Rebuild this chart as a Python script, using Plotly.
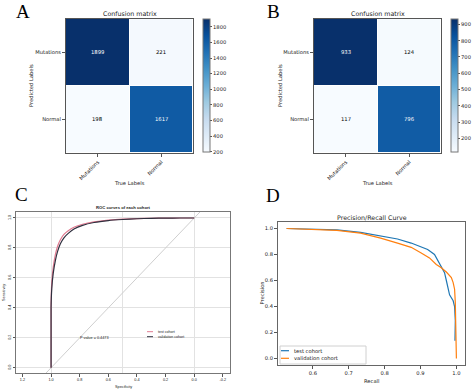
import plotly.graph_objects as go

W, H = 474, 391

# ---------------- data ----------------
cm_labels = ["Mutations", "Normal"]
cm_test = [[1899, 221], [198, 1617]]
cm_val = [[933, 124], [117, 796]]
cbar_ticks_a = [200, 400, 600, 800, 1000, 1200, 1400, 1600, 1800]
cbar_ticks_b = [200, 300, 400, 500, 600, 700, 800, 900]

roc_spec = [1.0, 1.0, 0.995, 0.985, 0.97, 0.955, 0.935, 0.91, 0.88, 0.84,
            0.78, 0.70, 0.60, 0.50, 0.40, 0.30, 0.20, 0.10, 0.0]
roc_sens_test = [0.0, 0.42, 0.57, 0.67, 0.755, 0.81, 0.855, 0.89, 0.915, 0.938,
                 0.958, 0.974, 0.986, 0.993, 0.996, 0.998, 0.999, 1.0, 1.0]
roc_sens_val = [0.0, 0.40, 0.53, 0.63, 0.715, 0.775, 0.828, 0.868, 0.897, 0.926,
                0.951, 0.970, 0.983, 0.990, 0.995, 0.998, 0.999, 1.0, 1.0]
roc_xticks = [1.2, 1.0, 0.8, 0.6, 0.4, 0.2, 0.0, -0.2]
roc_yticks = [0.0, 0.2, 0.4, 0.6, 0.8, 1.0]
roc_grid_x = [1.0, 0.5, 0.0]
p_value_text = "P value = 0.4473"

pr_recall_test = [0.527, 0.6, 0.667, 0.733, 0.789, 0.836, 0.874, 0.897, 0.92, 0.939,
                  0.949, 0.96, 0.967, 0.972, 0.977, 0.981, 0.991, 0.995, 0.997, 0.996]
pr_prec_test = [1.0, 0.995, 0.99, 0.97, 0.94, 0.919, 0.888, 0.863, 0.838, 0.80,
                0.749, 0.698, 0.66, 0.60, 0.55, 0.49, 0.444, 0.40, 0.29, 0.137]
pr_recall_val = [0.527, 0.6, 0.667, 0.733, 0.789, 0.836, 0.874, 0.902, 0.925, 0.944,
                 0.958, 0.972, 0.986, 0.991, 0.995, 0.997, 0.998, 1.0, 1.0]
pr_prec_val = [1.0, 0.995, 0.985, 0.964, 0.926, 0.888, 0.855, 0.812, 0.774, 0.723,
               0.698, 0.665, 0.622, 0.584, 0.533, 0.43, 0.30, 0.12, 0.0]
pr_xticks = [0.6, 0.7, 0.8, 0.9, 1.0]
pr_yticks = [0.0, 0.2, 0.4, 0.6, 0.8, 1.0]

series_names = ["test cohort", "validation cohort"]

# ---------------- style ----------------
blues = ['rgb(247,251,255)', 'rgb(222,235,247)', 'rgb(198,219,239)', 'rgb(158,202,225)',
         'rgb(107,174,214)', 'rgb(66,146,198)', 'rgb(33,113,181)', 'rgb(8,81,156)', 'rgb(8,48,107)']
blues_scale = [[i / (len(blues) - 1), c] for i, c in enumerate(blues)]
MPL = "DejaVu Sans"
RF = "Liberation Sans"
SERIF = "Liberation Serif"
roc_colors = ["#e07a90", "#30303f"]
pr_colors = ["#1f77b4", "#ff7f0e"]


def px(x):
    return x / W


def py(y):
    return 1 - y / H


fig = go.Figure()

# ---------- confusion matrices ----------
for k, (cm, ax) in enumerate([(cm_test, ""), (cm_val, "2")]):
    fig.add_trace(go.Heatmap(z=cm, x=cm_labels, y=cm_labels, coloraxis="coloraxis" + ax,
                             xaxis="x" + ax, yaxis="y" + ax, xgap=1, ygap=1,
                             hoverinfo="skip"))
    thresh = max(max(r) for r in cm) / 2
    for i, row in enumerate(cm):
        for j, v in enumerate(row):
            fig.add_annotation(x=cm_labels[j], y=cm_labels[i], xref="x" + ax, yref="y" + ax,
                               text=str(v), showarrow=False,
                               font=dict(family=MPL, size=5.3,
                                         color="white" if v > thresh else "black"))

# ---------- ROC ----------
rx = [roc_xticks[0] + 0.05, roc_xticks[-1] - 0.05]
fig.add_trace(go.Scatter(x=rx, y=[1 - v for v in rx], mode="lines", xaxis="x3", yaxis="y3",
                         line=dict(color="#cfcfcf", width=1), hoverinfo="skip", showlegend=False))
for name, sens, col in [(series_names[0], roc_sens_test, roc_colors[0]),
                        (series_names[1], roc_sens_val, roc_colors[1])]:
    fig.add_trace(go.Scatter(x=roc_spec, y=sens, mode="lines", name=name, xaxis="x3", yaxis="y3",
                             line=dict(color=col, width=1.2, shape="spline", smoothing=0.4),
                             showlegend=False))
fig.add_annotation(x=0.70, y=0.2, xref="x3", yref="y3", text=p_value_text, showarrow=False,
                   font=dict(family=RF, size=3.8, color="#222"))

# ---------- PR ----------
for name, rec, prec, col in [(series_names[0], pr_recall_test, pr_prec_test, pr_colors[0]),
                             (series_names[1], pr_recall_val, pr_prec_val, pr_colors[1])]:
    fig.add_trace(go.Scatter(x=rec, y=prec, mode="lines", name=name, xaxis="x4", yaxis="y4",
                             line=dict(color=col, width=1.2), showlegend=False))

# ---------- axes ----------
hm_axis = dict(showline=True, mirror=True, linecolor="#555", linewidth=1, ticks="outside",
               ticklen=3, tickcolor="#555", tickfont=dict(family=MPL, size=5.2, color="#222"),
               showgrid=False, zeroline=False)
cm_ydom = [py(153), py(19)]
cbar_common = dict(thickness=7, len=133, lenmode="pixels", y=py(85.5), yanchor="middle",
                   xanchor="left", xpad=0, ypad=0, outlinewidth=1, outlinecolor="#777",
                   ticks="outside", ticklen=2, tickcolor="#555",
                   tickfont=dict(family=MPL, size=5.2, color="#222"))
roc_axis = dict(showline=True, mirror=True, linecolor="#777", linewidth=1, ticks="outside",
                ticklen=2.5, tickcolor="#555", tickfont=dict(family=RF, size=3.8, color="#222"),
                zeroline=False)
pr_axis = dict(showline=True, mirror=True, linecolor="#666", linewidth=1, ticks="outside",
               ticklen=3, tickcolor="#555", tickfont=dict(family=MPL, size=5.2, color="#222"),
               showgrid=False, zeroline=False)

fig.update_layout(
    width=W, height=H, margin=dict(l=0, r=0, t=0, b=0),
    paper_bgcolor="white", plot_bgcolor="white", showlegend=False,
    coloraxis=dict(colorscale=blues_scale,
                   colorbar=dict(x=px(203), tickvals=cbar_ticks_a, **cbar_common)),
    coloraxis2=dict(colorscale=blues_scale,
                    colorbar=dict(x=px(451), tickvals=cbar_ticks_b, **cbar_common)),
    xaxis=dict(domain=[px(66), px(193)], anchor="y", tickangle=-45, **hm_axis),
    yaxis=dict(domain=cm_ydom, anchor="x", autorange="reversed", **hm_axis),
    xaxis2=dict(domain=[px(314), px(441)], anchor="y2", tickangle=-45, **hm_axis),
    yaxis2=dict(domain=cm_ydom, anchor="x2", autorange="reversed", **hm_axis),
    xaxis3=dict(domain=[px(16), px(230)], anchor="y3", range=[1.245, -0.25],
                tickvals=roc_xticks, ticktext=[f"{v:.1f}" for v in roc_xticks], showgrid=False,
                minor=dict(tickmode="array", tickvals=roc_grid_x, showgrid=True,
                           gridcolor="#e2e2e2", gridwidth=1, ticks=""),
                **roc_axis),
    yaxis3=dict(domain=[py(373), py(212)], anchor="x3", range=[-0.035, 1.04],
                tickvals=roc_yticks, ticktext=[f"{v:.1f}" for v in roc_yticks], tickangle=-90,
                showgrid=True, gridcolor="#e2e2e2", gridwidth=1, **roc_axis),
    xaxis4=dict(domain=[px(278), px(465)], anchor="y4", range=[0.503, 1.024],
                tickvals=pr_xticks, ticktext=[f"{v:.1f}" for v in pr_xticks], **pr_axis),
    yaxis4=dict(domain=[py(365), py(222)], anchor="x4", range=[-0.05, 1.05],
                tickvals=pr_yticks, ticktext=[f"{v:.1f}" for v in pr_yticks], **pr_axis),
)


def note(x, y, text, size, family=MPL, angle=0, xanchor="center", color="#222"):
    fig.add_annotation(x=px(x), y=py(y), xref="paper", yref="paper", text=text, showarrow=False,
                       textangle=angle, xanchor=xanchor, yanchor="middle",
                       font=dict(family=family, size=size, color=color))


# panel letters
note(22.5, 11, "A", 19, SERIF, color="black")
note(273, 11, "B", 19, SERIF, color="black")
note(21, 194, "C", 19, SERIF, color="black")
note(273, 195, "D", 19, SERIF, color="black")

# titles and axis labels
note(129.5, 14, "Confusion matrix", 6.3)
note(377.5, 14, "Confusion matrix", 6.3)
note(129.5, 183, "True Labels", 5.2)
note(377.5, 183, "True Labels", 5.2)
note(31, 86, "Predicted Labels", 5.2, angle=-90)
note(280, 86, "Predicted Labels", 5.2, angle=-90)

note(123, 207, "<b>ROC curves of each cohort</b>", 4.2, RF)
note(123, 387, "Specificity", 3.8, RF)
note(3.5, 292.5, "Sensitivity", 3.8, RF, angle=-90)

note(371.5, 217, "Precision/Recall Curve", 6.3)
note(371.5, 381, "Recall", 5.2)
note(261, 293.5, "Precision", 5.2, angle=-90)

# ROC legend (drawn manually, compact like R's legend)
for i, (name, col) in enumerate(zip(series_names, roc_colors)):
    yy = 331.7 + 5 * i
    fig.add_shape(type="line", xref="paper", yref="paper", x0=px(147), x1=px(153),
                  y0=py(yy), y1=py(yy), line=dict(color=col, width=1))
    note(155.7, yy, name, 3.6, RF, xanchor="left")

# PR legend (matplotlib style box)
fig.add_shape(type="rect", xref="paper", yref="paper", x0=px(280), x1=px(366),
              y0=py(364), y1=py(346), line=dict(color="#d0d0d0", width=1), fillcolor="white",
              layer="below")
for i, (name, col) in enumerate(zip(series_names, pr_colors)):
    yy = 350.7 + 7.6 * i
    fig.add_shape(type="line", xref="paper", yref="paper", x0=px(281), x1=px(289),
                  y0=py(yy), y1=py(yy), line=dict(color=col, width=1.2))
    note(292, yy, name, 5.2, xanchor="left")

fig.write_html("out.html", config={"displayModeBar": False},
               post_script="document.body.style.margin='0px';document.body.style.overflow='hidden';")
